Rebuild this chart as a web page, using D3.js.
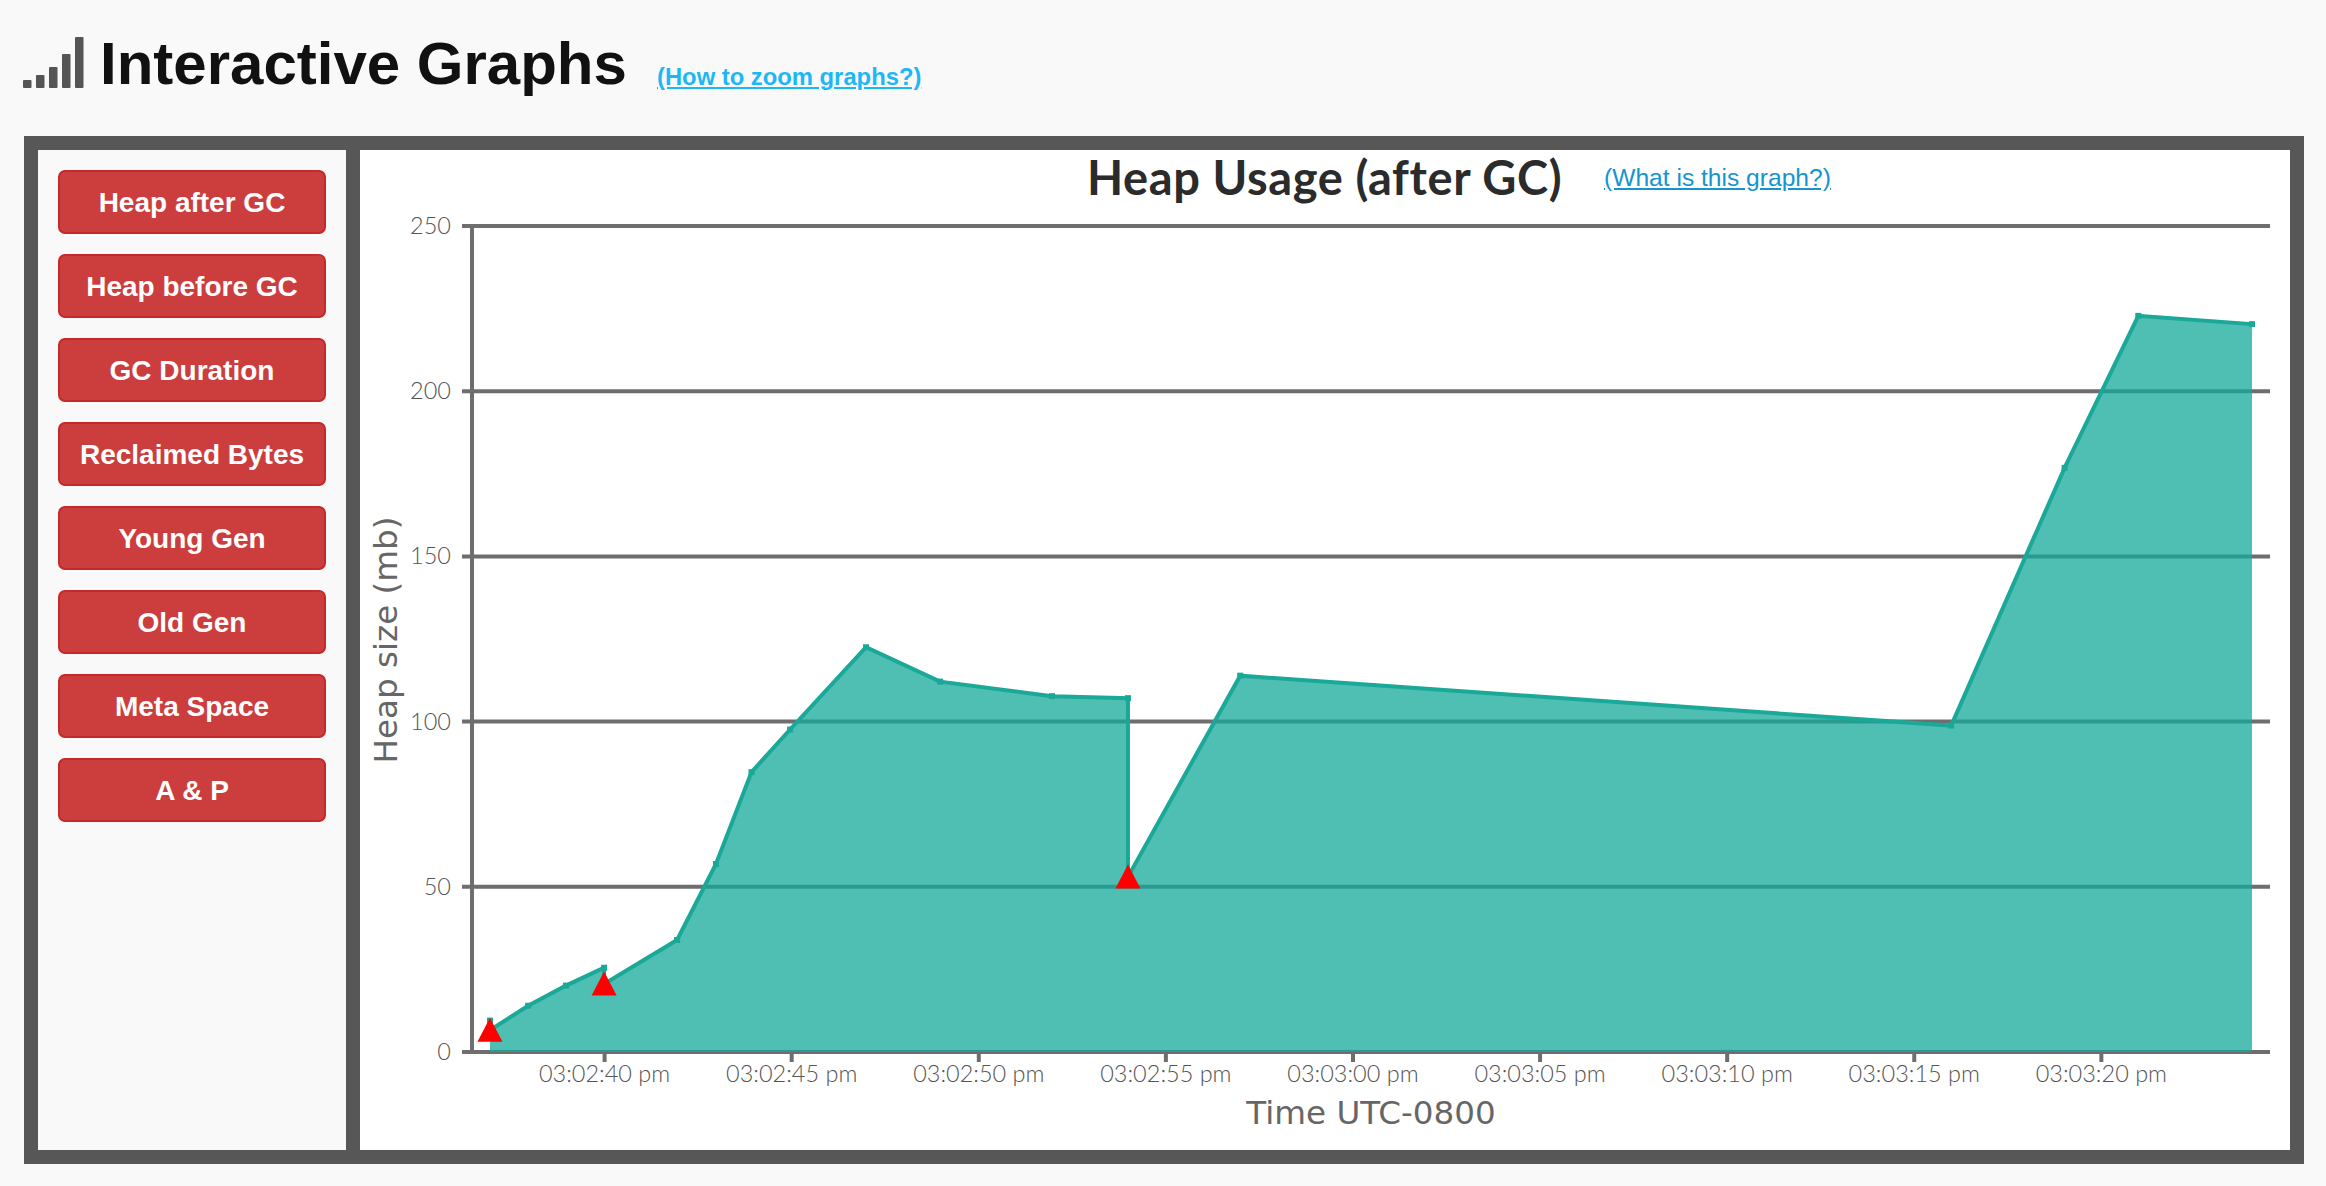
<!DOCTYPE html>
<html>
<head>
<meta charset="utf-8">
<script src="https://cdn.jsdelivr.net/npm/d3@7"></script>
<style>
    html, body { margin: 0; padding: 0; background: #f9f9f9; overflow: hidden; }
    #page { position: relative; width: 2326px; height: 1186px; font-family: "Liberation Sans", sans-serif; }
    #icon { position: absolute; left: 0; top: 0; }
    h1 { position: absolute; left: 100px; top: 28px; margin: 0; font-size: 60px; line-height: 72px; font-weight: 700; color: #111; white-space: nowrap; }
    #zoom-link { position: absolute; left: 657px; top: 63px; font-size: 23.8px; font-weight: 700; color: #1cb8f5; white-space: nowrap; }
    #frame { position: absolute; left: 24px; top: 136px; width: 2280px; height: 1028px; background: #575757; }
    #sidebar { position: absolute; left: 14px; top: 14px; width: 308px; height: 1000px; background: #f9f9f9; }
    .btn { position: absolute; left: 20px; width: 264px; height: 60px; line-height: 61px; text-align: center;
           background: #cc3d3d; border: 2px solid #c42a2a; border-radius: 7px; color: #fff; font-size: 28px; font-weight: 700; }
    #chart { position: absolute; left: 336px; top: 14px; width: 1930px; height: 1000px; background: #fff; }
    #what-link { position: absolute; left: 1244px; top: 14px; font-size: 24.6px; color: #1594d0; white-space: nowrap; }
    svg text { font-family: Lato, sans-serif; }
</style>
</head>
<body>
<div id="page">
    <svg id="icon" width="100" height="100"></svg>
    <h1>Interactive Graphs</h1>
    <a id="zoom-link" href="#">(How to zoom graphs?)</a>
    <div id="frame">
        <div id="sidebar"></div>
        <div id="chart">
            <a id="what-link" href="#">(What is this graph?)</a>
        </div>
    </div>
</div>
<script>
const buttonLabels = ["Heap after GC", "Heap before GC", "GC Duration", "Reclaimed Bytes", "Young Gen", "Old Gen", "Meta Space", "A & P"];

// samples, same time twice = drop at a full GC
const heapTimes = ["15:02:36.950", "15:02:36.950", "15:02:37.970", "15:02:38.980", "15:02:40.000", "15:02:40.000", "15:02:41.950", "15:02:42.990", "15:02:43.940", "15:02:44.970",
    "15:02:47.000", "15:02:48.980", "15:02:51.970", "15:02:54.000", "15:02:54.000", "15:02:57.000", "15:03:16.000", "15:03:19.030", "15:03:21.000", "15:03:24.040"];
const heapValues = [9.5, 6.6, 14.0, 20.1, 25.5, 20.6, 33.9, 56.9, 84.7, 97.6,
    122.5, 112.1, 107.7, 107.1, 53, 113.9, 98.8, 176.8, 222.8, 220.3];

const fullGcTimes = ["15:02:36.950", "15:02:40.000", "15:02:54.000"];
const fullGcValues = [6.6, 20.6, 53];

const yTicks = [0, 50, 100, 150, 200, 250];
const iconBars = [8, 13, 21, 34, 51];

const parseMs = d3.timeParse("%H:%M:%S.%L");
const fmt = d3.timeFormat("%I:%M:%S %p");

/* Header and sidebar */

const iconX = d3.scaleBand().domain(d3.range(iconBars.length)).range([23, 83.5]).paddingInner(0.346).paddingOuter(0);
d3.select("#icon").selectAll("rect")
    .data(iconBars)
    .join("rect")
    .attr("x", (d, i) => iconX(i))
    .attr("y", d => 88 - d)
    .attr("width", iconX.bandwidth())
    .attr("height", d => d)
    .attr("rx", 1)
    .attr("fill", "#555");

d3.select("#sidebar").selectAll(".btn")
    .data(buttonLabels)
    .join("div")
    .attr("class", "btn")
    .style("top", (d, i) => (20 + i * 84) + "px")
    .text(d => d);

/* Chart, page coordinates minus chart offset */

const ox = 360, oy = 150;

const svg = d3.select("#chart")
    .append("svg")
    .attr("width", 1930)
    .attr("height", 1000)
    .style("position", "absolute")
    .style("left", 0)
    .style("top", 0);

d3.select("#what-link").raise();

const x = d3.scaleTime()
    .domain([parseMs("15:02:36.470"), parseMs("15:03:24.520")])
    .range([472 - ox, 2270 - ox]);

const y = d3.scaleLinear()
    .domain([0, 250])
    .range([1052 - oy, 226 - oy]);

const series = heapTimes.map((t, i) => ({t: parseMs(t), v: heapValues[i]}));
const gcPoints = fullGcTimes.map((t, i) => ({t: parseMs(t), v: fullGcValues[i]}));

svg.append("text")
    .attr("x", 1087 - ox)
    .attr("y", 195 - oy)
    .attr("font-size", 47)
    .attr("font-weight", 700)
    .attr("letter-spacing", 0.6)
    .attr("fill", "#2b2b2b")
    .text("Heap Usage (after GC)");

// grid
svg.append("g")
    .selectAll("line")
    .data(yTicks)
    .join("line")
    .attr("x1", 462 - ox)
    .attr("x2", x.range()[1])
    .attr("y1", d => y(d))
    .attr("y2", d => y(d))
    .attr("stroke", "#6e6e6e")
    .attr("stroke-width", 4);

svg.append("line")
    .attr("x1", x.range()[0])
    .attr("x2", x.range()[0])
    .attr("y1", y(250))
    .attr("y2", y(0))
    .attr("stroke", "#6e6e6e")
    .attr("stroke-width", 4);

// axes
const xAxis = d3.axisBottom(x)
    .ticks(d3.timeSecond.every(5))
    .tickSize(10)
    .tickPadding(3)
    .tickFormat(d => fmt(d).toLowerCase());

const gx = svg.append("g")
    .attr("transform", `translate(0,${y(0)})`)
    .call(xAxis);
gx.select(".domain").remove();
gx.selectAll(".tick line").attr("stroke", "#6e6e6e").attr("stroke-width", 4);
gx.selectAll(".tick text").attr("fill", "#555").attr("font-size", 23.5).attr("font-weight", 300);

const gy = svg.append("g")
    .attr("transform", `translate(${x.range()[0]},0)`)
    .call(d3.axisLeft(y).tickValues(yTicks).tickSize(0).tickPadding(21));
gy.select(".domain").remove();
gy.selectAll(".tick text").attr("fill", "#555").attr("font-size", 23.5).attr("font-weight", 300);

svg.append("text")
    .attr("text-anchor", "middle")
    .attr("x", 1371 - ox)
    .attr("y", 1124 - oy)
    .attr("font-size", 32.6)
    .attr("fill", "#666")
    .style("font-family", "'DejaVu Sans', sans-serif")
    .text("Time UTC-0800");

svg.append("text")
    .attr("text-anchor", "middle")
    .attr("transform", `translate(${397 - ox},${640 - oy}) rotate(-90)`)
    .attr("font-size", 32.6)
    .attr("fill", "#666")
    .style("font-family", "'DejaVu Sans', sans-serif")
    .text("Heap size (mb)");

// series
const area = d3.area().x(d => x(d.t)).y0(y(0)).y1(d => y(d.v));
const line = d3.line().x(d => x(d.t)).y(d => y(d.v));

svg.append("path")
    .attr("d", area(series))
    .attr("fill", "#14a89a")
    .attr("fill-opacity", 0.75);

svg.append("path")
    .attr("d", line(series))
    .attr("fill", "none")
    .attr("stroke", "#1aa898")
    .attr("stroke-width", 4);

svg.append("g")
    .selectAll("rect")
    .data(series)
    .join("rect")
    .attr("x", d => x(d.t) - 3)
    .attr("y", d => y(d.v) - 3)
    .attr("width", 6)
    .attr("height", 6)
    .attr("fill", "#1aa898");

// full GC triangles
const tri = d3.line()([[0, -12.5], [12.5, 11.5], [-12.5, 11.5]]) + "Z";
svg.append("g")
    .selectAll("path")
    .data(gcPoints)
    .join("path")
    .attr("d", tri)
    .attr("transform", d => `translate(${x(d.t)},${y(d.v)})`)
    .attr("fill", "#ff0000");
</script>
</body>
</html>
